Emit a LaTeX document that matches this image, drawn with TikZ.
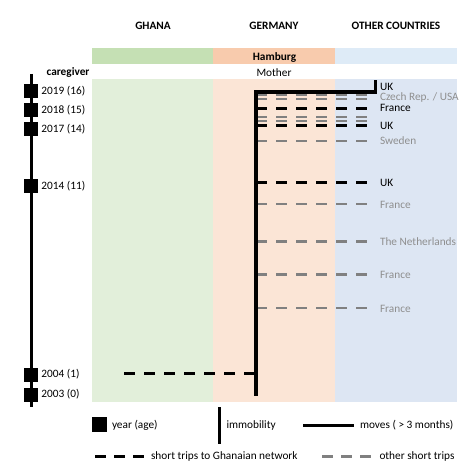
\documentclass[tikz,border=0pt]{standalone}
\usepackage{fontspec}
\setmainfont{Carlito}
\definecolor{ghH}{HTML}{C5E0B4}
\definecolor{geH}{HTML}{F8CBAD}
\definecolor{otH}{HTML}{DEEBF7}
\definecolor{ghB}{HTML}{E2EFDA}
\definecolor{geB}{HTML}{FBE5D6}
\definecolor{otB}{HTML}{DDE6F3}
\definecolor{tripgray}{HTML}{808080}
\definecolor{labgray}{HTML}{8F8F8F}
\tikzset{
  every node/.style={inner sep=0pt, outer sep=0pt, font=\fontsize{11.3}{13}\selectfont},
  hdr/.style={font=\fontsize{11.3}{13}\selectfont\bfseries},
  yearbox/.style={fill=black, minimum width=14pt, minimum height=14pt},
  yearlab/.style={anchor=west},
  clab/.style={anchor=west},
  glab/.style={anchor=west, text=labgray},
  movel/.style={line width=3.5pt},
  immob/.style={line width=3.5pt},
  tripblack/.style={line width=2.6pt, black, dash pattern=on 10.5pt off 9.5pt},
  tripgrayl/.style={line width=2.6pt, tripgray, dash pattern=on 10.5pt off 9.5pt},
  tripgraythin/.style={line width=2pt, tripgray, dash pattern=on 10.5pt off 9.5pt},
  legdash/.style={line width=2.8pt, dash pattern=on 11pt off 8pt},
}
\begin{document}
\begin{tikzpicture}[x=1pt,y=-1pt]
\useasboundingbox (0,0) rectangle (474,470);
\fill[white] (0,0) rectangle (474,470);
% header bands
\fill[ghH] (91.7,48.3) rectangle (213.3,64);
\fill[geH] (213.3,48.3) rectangle (335,64);
\fill[otH] (335,48.3) rectangle (457.3,64);
% main bands
\fill[ghB] (91.7,79.3) rectangle (213.3,401.7);
\fill[geB] (213.3,79.3) rectangle (335,401.7);
\fill[otB] (335,79.3) rectangle (457.3,401.7);
% headers
\node[hdr] (hgh) at (153,26) {GHANA};
\node[hdr] (hge) at (274,26) {GERMANY};
\node[hdr] (hot) at (396,26) {OTHER COUNTRIES};
\node[hdr] (ham) at (274.5,57) {Hamburg};
\node (mot) at (274,72.3) {Mother};
\node[hdr, anchor=east] (care) at (89.5,72.3) {caregiver};
% timeline
\coordinate (tltop) at (31.7,74);
\coordinate (tlbot) at (31.7,407);
\draw[line width=2.5pt] (tltop) -- (tlbot);
\foreach \n/\y/\t in {y19/91.5/2019 (16), y18/110/2018 (15), y17/129/2017 (14), y14/186/2014 (11), y04/374.5/2004 (1), y03/394.5/2003 (0)}{
  \node[yearbox] (b\n) at (31.2,\y) {};
  \node[yearlab] (l\n) at (41.5,\y) {\t};
}
% trips (drawn before immobility line)
\coordinate (s1a) at (256,95.3);  \coordinate (e1a) at (367,95.3);
\coordinate (s1b) at (256,99.5);  \coordinate (e1b) at (367,99.5);
\coordinate (s2) at (256,108.3);  \coordinate (e2) at (367,108.3);
\coordinate (s3a) at (256,116.8); \coordinate (e3a) at (367,116.8);
\coordinate (s3b) at (256,120.6); \coordinate (e3b) at (367,120.6);
\coordinate (s4) at (256,125.3);  \coordinate (e4) at (367,125.3);
\coordinate (s5) at (256,141);    \coordinate (e5) at (367,141);
\coordinate (s6) at (256,182.5);  \coordinate (e6) at (367,182.5);
\coordinate (s7) at (256,204);    \coordinate (e7) at (367,204);
\coordinate (s8) at (256,241.3);  \coordinate (e8) at (367,241.3);
\coordinate (s9) at (256,274.8);  \coordinate (e9) at (367,274.8);
\coordinate (s10) at (256,308);   \coordinate (e10) at (367,308);
\draw[tripgraythin] (s1a) -- (e1a);
\draw[tripgraythin] (s1b) -- (e1b);
\draw[tripblack] (s2) -- (e2);
\draw[tripgraythin] (s3a) -- (e3a);
\draw[tripgraythin] (s3b) -- (e3b);
\draw[tripblack] (s4) -- (e4);
\draw[tripgrayl] (s5) -- (e5);
\draw[tripblack] (s6) -- (e6);
\draw[tripgrayl] (s7) -- (e7);
\draw[tripgrayl] (s8) -- (e8);
\draw[tripgrayl] (s9) -- (e9);
\draw[tripgrayl] (s10) -- (e10);
% Ghana trip
\coordinate (gs) at (124,373.5);
\coordinate (ge) at (256,373.5);
\draw[tripblack] (gs) -- (ge);
% immobility and move
\coordinate (imbot) at (256,395.5);
\coordinate (imtop) at (256,91.8);
\coordinate (mvcorner) at (375.5,91.8);
\coordinate (mvtop) at (375.5,80);
\draw[immob, line cap=butt, line join=miter] (imbot) -- (imtop) -- (mvcorner) -- (mvtop);
% country labels
\node[clab] (c1) at (380,86.5) {UK};
\node[glab] (c2) at (380,97.5) {Czech Rep. / USA};
\node[clab] (c3) at (380,108) {France};
\node[clab] (c4) at (380,126) {UK};
\node[glab] (c5) at (380,141) {Sweden};
\node[clab] (c6) at (380,183) {UK};
\node[glab] (c7) at (380,204.5) {France};
\node[glab] (c8) at (380,241.5) {The Netherlands};
\node[glab] (c9) at (380,275) {France};
\node[glab] (c10) at (380,308.5) {France};
% legend
\node[yearbox, minimum width=14.5pt, minimum height=14.5pt] (lgbox) at (99.5,424.5) {};
\node[anchor=west] (lgyear) at (112,425.5) {year (age)};
\coordinate (lgit) at (219,407);
\coordinate (lgib) at (219,443.5);
\draw[line width=3pt] (lgit) -- (lgib);
\node[anchor=west] (lgimm) at (226.5,425.5) {immobility};
\coordinate (lgms) at (303,425);
\coordinate (lgme) at (354,425);
\draw[line width=3pt] (lgms) -- (lgme);
\node[anchor=west] (lgmov) at (360,425.5) {moves ( > 3 months)};
\coordinate (lgbs) at (95,456.5);
\coordinate (lgbe) at (144,456.5);
\draw[legdash, black] (lgbs) -- (lgbe);
\node[anchor=west] (lgsh) at (151,456.5) {short trips to Ghanaian network};
\coordinate (lggs) at (322,456.5);
\coordinate (lgge) at (371,456.5);
\draw[legdash, tripgray] (lggs) -- (lgge);
\node[anchor=west] (lgoth) at (379.5,456.5) {other short trips};
\end{tikzpicture}
\end{document}
